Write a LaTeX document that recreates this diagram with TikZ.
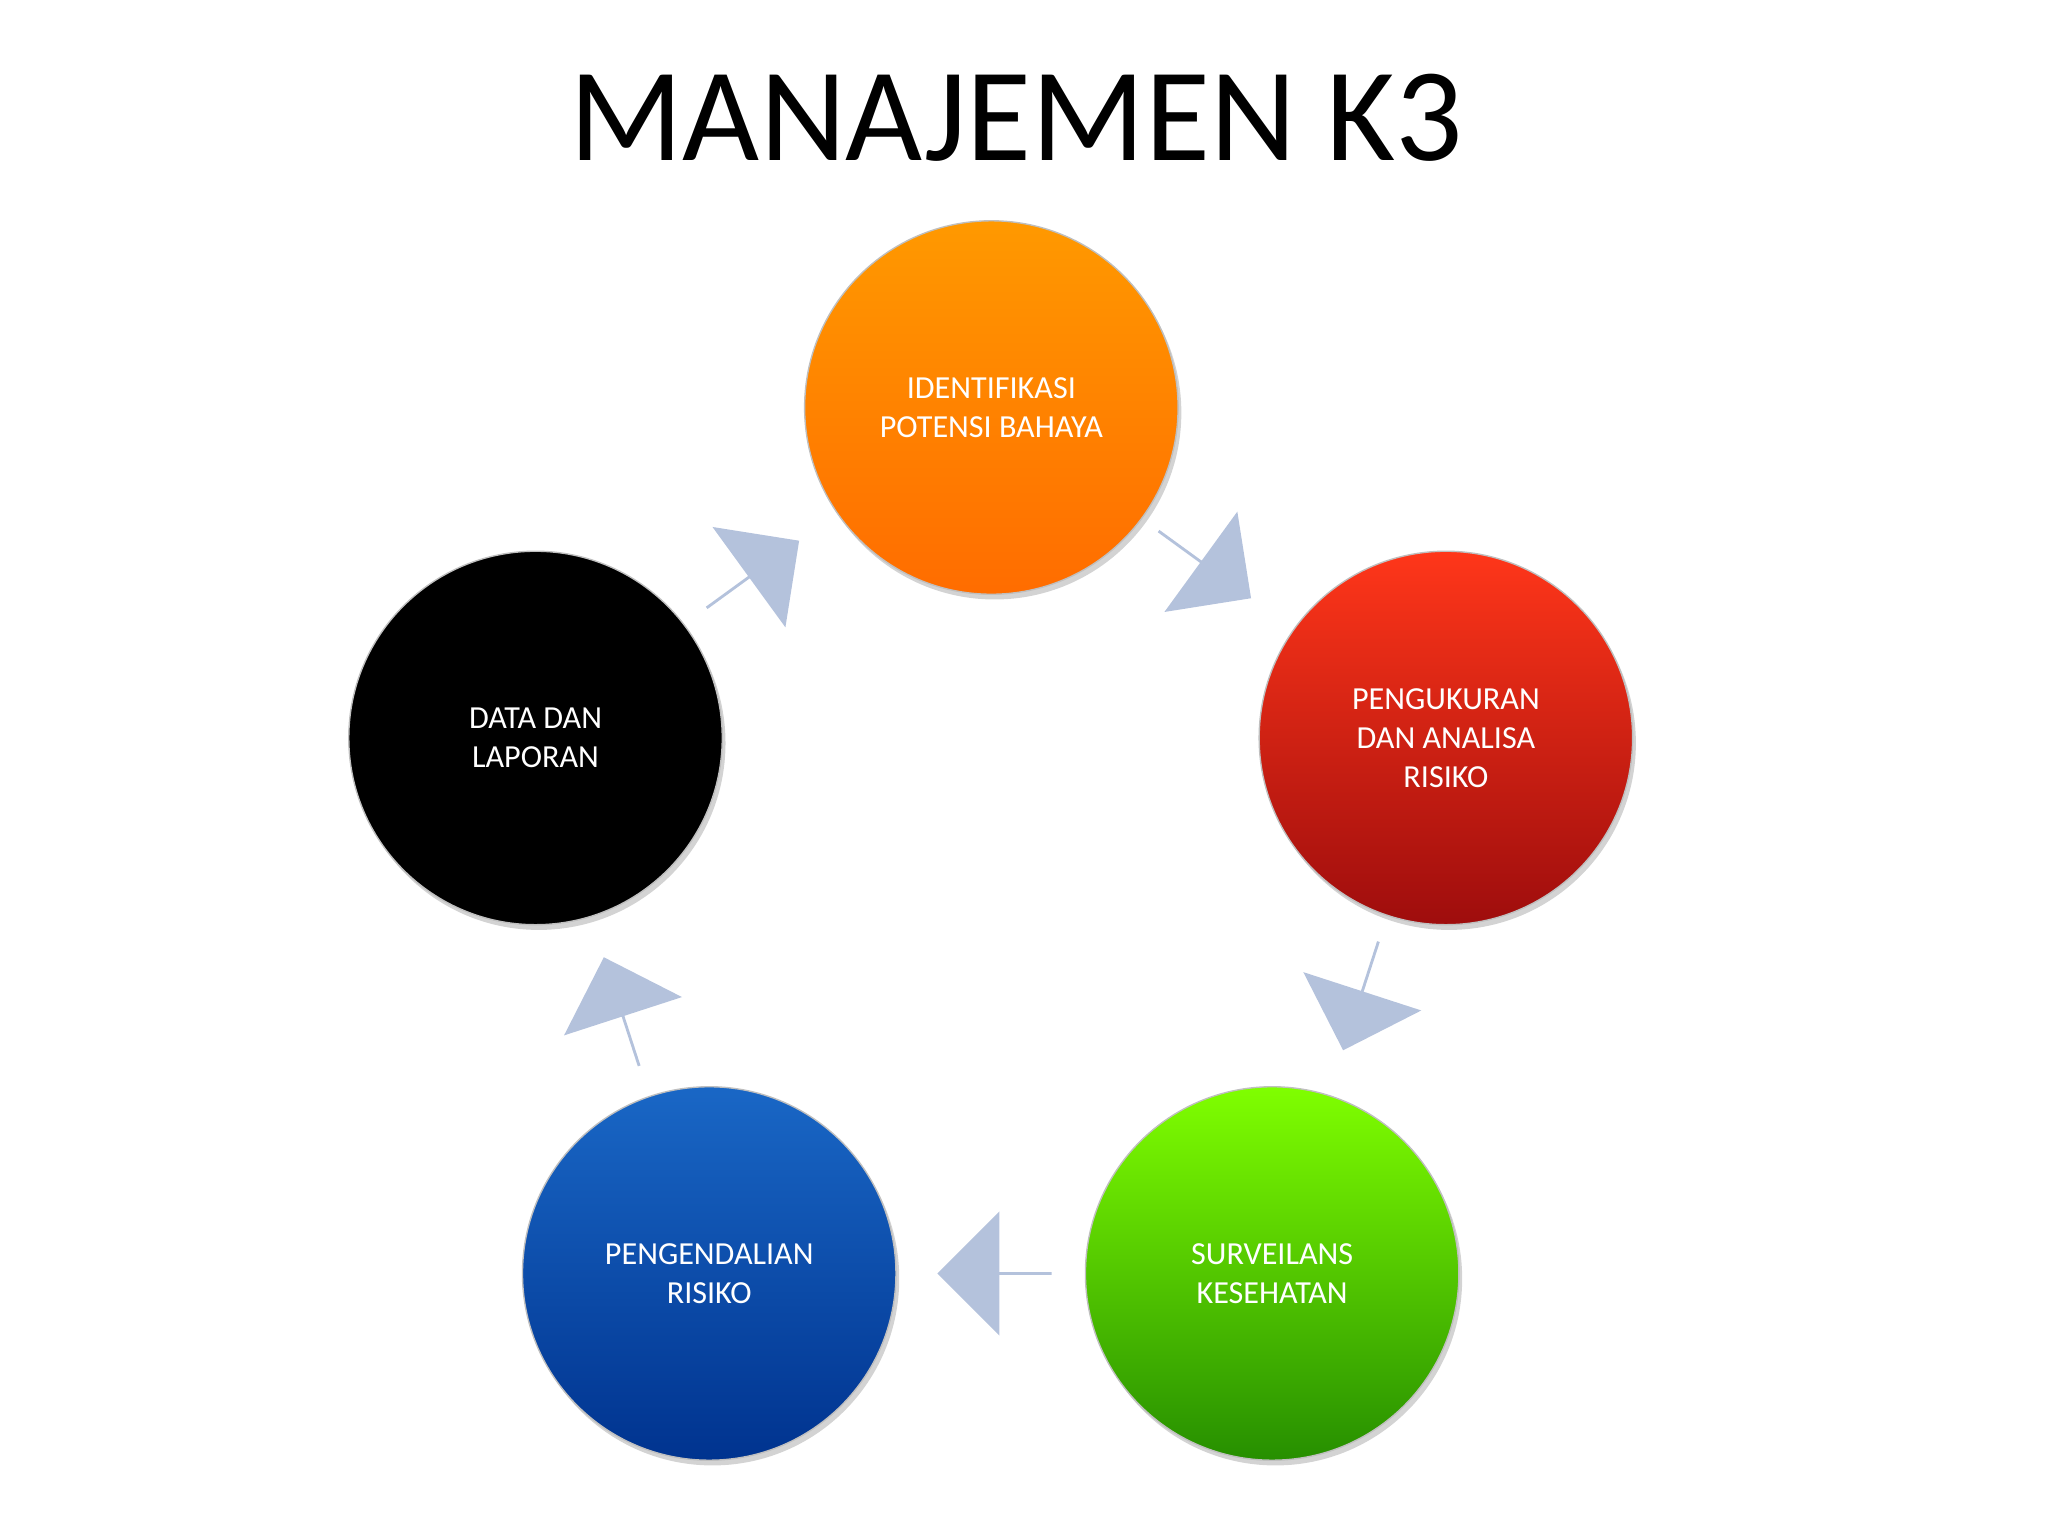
\documentclass[tikz,border=0pt]{standalone}
\usepackage{fontspec}
\setmainfont{Carlito}
\usetikzlibrary{shapes.arrows,shadows}
\begin{document}
\begin{tikzpicture}[x=0.02cm,y=-0.02cm,
  ball/.style={circle,minimum size=5.72cm,inner sep=0pt,text=white,align=center,
    font=\fontsize{14pt}{17pt}\selectfont,draw=black!25,line width=0.6pt,
    drop shadow={shadow xshift=0.05cm,shadow yshift=-0.08cm,opacity=0.35}},
  blk/.style={single arrow,fill=arrowc,draw=none,minimum height=1.75cm,
    minimum width=1.9cm,single arrow head extend=0.3cm,inner sep=0pt}]
\definecolor{arrowc}{HTML}{B4C2DC}
\useasboundingbox (0,0) rectangle (1568,1176);
\node[font=\fontsize{58pt}{60pt}\selectfont] (t) at (778,90) {MANAJEMEN K3};
\node[ball,top color=orange!80!yellow,bottom color=orange!85!red] (a) at (759,312) {IDENTIFIKASI\\POTENSI BAHAYA};
\node[ball,top color=red!75!orange!90,bottom color=red!60!black!95] (b) at (1107,565) {PENGUKURAN\\DAN ANALISA\\RISIKO};
\node[ball,top color=green!50!lime!80!yellow,bottom color=green!45!black!80!lime] (c) at (974,975) {SURVEILANS\\KESEHATAN};
\node[ball,top color=blue!55!cyan!75!black!90,bottom color=blue!45!black!80!cyan] (d) at (543,975) {PENGENDALIAN\\RISIKO};
\node[ball,fill=black] (e) at (410,565) {DATA DAN\\LAPORAN};
\node[blk,rotate=-36] (ab) at (922,432) {};
\node[blk,rotate=-108] (bc) at (1042,762) {};
\node[blk,rotate=180] (cd) at (762,975) {};
\node[blk,rotate=108] (de) at (476,775) {};
\node[blk,rotate=36] (ea) at (576,440) {};
\end{tikzpicture}
\end{document}
